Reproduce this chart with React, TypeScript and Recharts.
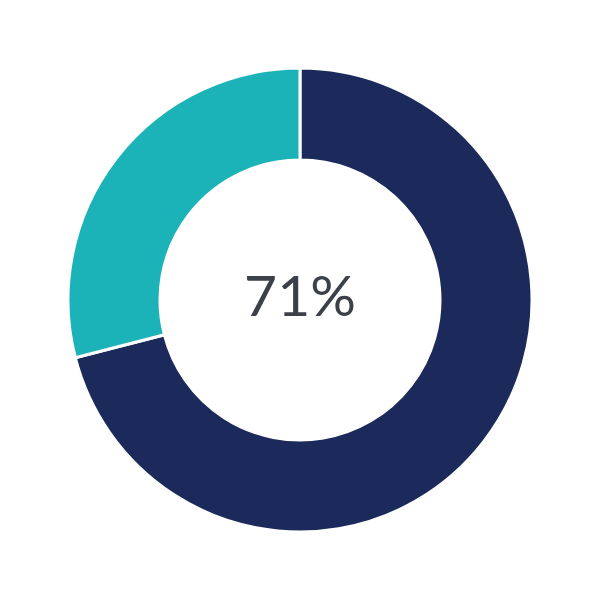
import { PieChart, Pie, Cell } from 'recharts';

const labels = ['Yes', 'No'];
const values = [71, 29];
const colors = ['#1b2a5a', '#1cb3b8'];
const centerLabel = '71%';

const data = labels.map((name, i) => ({ name, value: values[i] }));

export default function App() {
  return (
    <div style={{ position: 'absolute', left: 0, top: 0, width: 600, height: 600, background: '#fff' }}>
      <PieChart width={600} height={600}>
        <Pie
          data={data}
          dataKey="value"
          nameKey="name"
          cx={295}
          cy={295}
          innerRadius={140}
          outerRadius={232}
          startAngle={90}
          endAngle={-270}
          stroke="#ffffff"
          strokeWidth={3}
          isAnimationActive={false}
        >
          {data.map((d, i) => (
            <Cell key={d.name} fill={colors[i]} />
          ))}
        </Pie>
        <text
          x={300}
          y={294}
          textAnchor="middle"
          dominantBaseline="central"
          fontFamily="Lato, sans-serif"
          fontSize={57}
          fill="#3b4049"
        >
          {centerLabel}
        </text>
      </PieChart>
    </div>
  );
}
